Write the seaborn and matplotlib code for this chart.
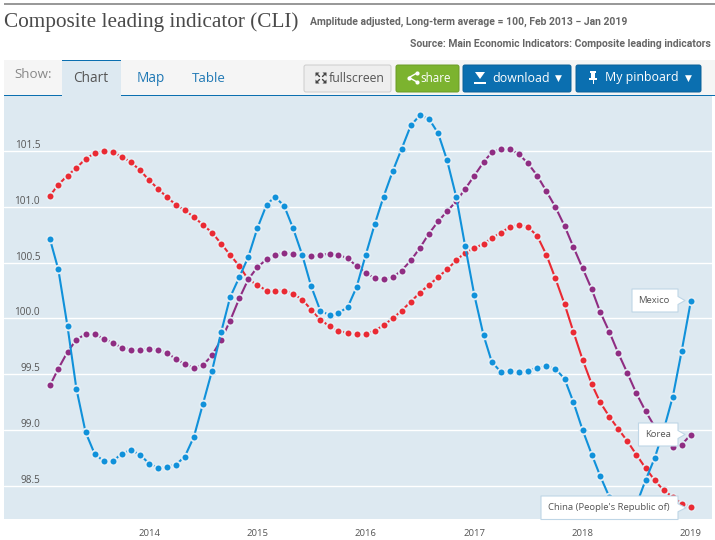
import pandas as pd
import matplotlib
matplotlib.use("Agg")
import matplotlib.pyplot as plt
from matplotlib.patches import FancyBboxPatch, Polygon, Rectangle
import seaborn as sns

# Monthly values, Feb 2013 - Jan 2019
months = pd.date_range("2013-02-01", periods=72, freq="MS")

china = [101.10, 101.20, 101.28, 101.35, 101.43, 101.48, 101.50, 101.49, 101.45, 101.40, 101.33,
         101.24, 101.16, 101.09, 101.02, 100.97, 100.91, 100.84, 100.77, 100.67, 100.57, 100.47, 100.35,
         100.30, 100.25, 100.25, 100.25, 100.22, 100.17, 100.08, 99.99, 99.93, 99.89, 99.87, 99.86,
         99.86, 99.89, 99.94, 100.00, 100.07, 100.15, 100.23, 100.30, 100.37, 100.44, 100.52, 100.59,
         100.63, 100.67, 100.72, 100.77, 100.82, 100.84, 100.82, 100.74, 100.57, 100.36, 100.13, 99.88,
         99.63, 99.41, 99.25, 99.12, 99.01, 98.90, 98.78, 98.66, 98.55, 98.46, 98.40, 98.34,
         98.31]

korea = [99.40, 99.55, 99.70, 99.81, 99.86, 99.86, 99.82, 99.78, 99.74, 99.72, 99.72,
         99.73, 99.72, 99.69, 99.64, 99.59, 99.56, 99.58, 99.67, 99.81, 99.98, 100.18, 100.35,
         100.46, 100.53, 100.57, 100.59, 100.58, 100.57, 100.56, 100.57, 100.58, 100.57, 100.54, 100.47,
         100.41, 100.36, 100.35, 100.37, 100.43, 100.52, 100.63, 100.76, 100.87, 100.96, 101.05, 101.16,
         101.28, 101.40, 101.49, 101.52, 101.52, 101.47, 101.39, 101.28, 101.14, 101.00, 100.83, 100.64,
         100.45, 100.26, 100.06, 99.88, 99.69, 99.51, 99.33, 99.17, 99.03, 98.93, 98.85, 98.87,
         98.96]

mexico = [100.71, 100.44, 99.93, 99.37, 98.98, 98.79, 98.72, 98.72, 98.79, 98.82, 98.78,
          98.70, 98.66, 98.67, 98.69, 98.76, 98.94, 99.23, 99.53, 99.88, 100.19, 100.37, 100.55,
          100.81, 101.02, 101.09, 101.01, 100.81, 100.57, 100.29, 100.07, 100.03, 100.05, 100.10, 100.28,
          100.57, 100.85, 101.09, 101.32, 101.52, 101.73, 101.82, 101.79, 101.66, 101.42, 101.09, 100.65,
          100.21, 99.85, 99.61, 99.52, 99.53, 99.52, 99.53, 99.56, 99.57, 99.55, 99.46, 99.25,
          99.00, 98.78, 98.59, 98.40, 98.22, 98.12, 98.33, 98.55, 98.75, 99.00, 99.30, 99.71,
          100.16]

y_ticks = [98.5, 99.0, 99.5, 100.0, 100.5, 101.0, 101.5]
x_years = [2014, 2015, 2016, 2017, 2018, 2019]

BG = "#dde9f1"
TEXT = "#555555"
BLUE_BTN = "#0b6fb0"

sns.set_theme(style="darkgrid", rc={
    "axes.facecolor": BG,
    "grid.color": "white",
    "grid.linewidth": 1.0,
    "axes.linewidth": 0,
})
plt.rcParams["font.family"] = ["Open Sans", "DejaVu Sans"]

W, H = 715, 540
fig = plt.figure(figsize=(W / 100, H / 100), dpi=100, facecolor="white")

# chart area, placed in pixels
ax = fig.add_axes([4 / W, (H - 519) / H, 708 / W, 423 / H])

df = pd.DataFrame({
    "date": list(months) * 3,
    "value": china + korea + mexico,
    "country": ["China"] * 72 + ["Korea"] * 72 + ["Mexico"] * 72,
})
sns.lineplot(data=df, x="date", y="value", hue="country", ax=ax, legend=False,
             palette={"China": "#ea2a33", "Korea": "#8f2d82", "Mexico": "#1091da"},
             linewidth=1.5, marker="o", markersize=5.6,
             markeredgecolor="#e3edf4", markeredgewidth=1.3, estimator=None)

ax.set_xlim(pd.Timestamp("2013-02-01") - pd.Timedelta(days=155),
            pd.Timestamp("2019-01-01") + pd.Timedelta(days=71))
ax.set_ylim(98.203, 101.994)
ax.set_xlabel("")
ax.set_ylabel("")
ax.grid(False, axis="x")
ax.set_xticks([pd.Timestamp(f"{y}-01-01") for y in x_years])
ax.set_xticklabels([str(y) for y in x_years], fontsize=6.8, color=TEXT)
ax.set_yticks(y_ticks)
ax.set_yticklabels([f"{v:.1f}" for v in y_ticks], fontsize=7.2, color=TEXT, ha="right", va="bottom")
ax.tick_params(axis="x", length=3, width=1.2, color="white", direction="in", pad=7)
ax.tick_params(axis="y", length=0, pad=-26)

# overlay in pixel coordinates for the page furniture
ov = fig.add_axes([0, 0, 1, 1], zorder=5)
ov.set_xlim(0, W)
ov.set_ylim(H, 0)
ov.axis("off")
ov.patch.set_alpha(0)

ov.add_patch(Rectangle((4, 3), 711, 1.5, fc="#999999", ec="none"))
ov.text(4, 22, "Composite leading indicator (CLI)", family="Liberation Serif",
        fontsize=15.3, color="#4a4a4a", va="center")
ov.text(310, 22, "Amplitude adjusted, Long-term average = 100, Feb 2013 \u2212 Jan 2019",
        family="Roboto", weight="bold", fontsize=7.5, color="#666666", va="center")
ov.text(711, 44, "Source: Main Economic Indicators: Composite leading indicators",
        family="Roboto", weight="bold", fontsize=7.5, color="#666666", va="center", ha="right")

# toolbar
ov.add_patch(Rectangle((4, 60), 711, 35, fc="#f5f5f5", ec="none"))
ov.add_patch(Rectangle((4, 95), 711, 1, fc=BLUE_BTN, ec="none"))
ov.add_patch(Rectangle((62, 60), 59, 36, fc=BG, ec="none"))
ov.add_patch(Rectangle((62, 60), 59, 1, fc=BLUE_BTN, ec="none"))
ov.text(14, 75, "Show:", fontsize=9.6, color="#888888", va="center")
ov.text(91, 78, "Chart", fontsize=9.8, color="#555555", va="center", ha="center")
ov.text(150.5, 78, "Map", fontsize=9.8, color="#1f78b4", va="center", ha="center")
ov.text(208.5, 78, "Table", fontsize=9.6, color="#1f78b4", va="center", ha="center")


def button(x0, x1, face, edge):
    ov.add_patch(FancyBboxPatch((x0 + 2, 67), x1 - x0 - 4, 23, boxstyle="round,pad=2,rounding_size=2",
                                fc=face, ec=edge, lw=0.7))


button(304, 391, "#eeeeee", "#cccccc")
button(396, 459, "#7cb32f", "#6a9c25")
button(463, 571, BLUE_BTN, "#0a5f98")
button(576, 701, BLUE_BTN, "#0a5f98")

ov.text(329, 78, "fullscreen", fontsize=8.8, color="#555555", va="center")
ov.text(420, 78, "share", fontsize=8.4, color="white", va="center")
ov.text(492, 78, "download", fontsize=8.9, color="white", va="center")
ov.text(605, 78, "My pinboard", fontsize=8.9, color="white", va="center")
ov.text(558, 78, "\u25bc", fontsize=6.5, color="white", va="center", ha="center", family="DejaVu Sans")
ov.text(688, 78, "\u25bc", fontsize=6.5, color="white", va="center", ha="center", family="DejaVu Sans")

# fullscreen icon
for sx, sy in [(-1, -1), (1, -1), (-1, 1), (1, 1)]:
    cx, cy = 321 + sx * 5.5, 78 + sy * 5.5
    ov.add_patch(Polygon([(cx, cy), (cx - sx * 4, cy), (cx, cy - sy * 4)], fc="#444444", ec="none"))
    ov.plot([cx - sx * 1, cx - sx * 4], [cy - sy * 1, cy - sy * 4], color="#444444", lw=1.0)

# share icon
ov.plot([417, 409, 417], [73, 77.5, 82], color="white", lw=1.0, marker="o", ms=3, mec="none")
# download icon
ov.add_patch(Polygon([(475, 72), (485, 72), (480, 79)], fc="white", ec="none"))
ov.add_patch(Rectangle((474, 82), 12, 2, fc="white", ec="none"))
# pin icon
ov.add_patch(Rectangle((590, 71), 6, 1.5, fc="white", ec="none"))
ov.add_patch(Rectangle((591, 72), 4, 6, fc="white", ec="none"))
ov.add_patch(Rectangle((589, 78), 8, 1.5, fc="white", ec="none"))
ov.add_patch(Rectangle((592.5, 79), 1, 5, fc="white", ec="none"))


# series labels with the small pointer towards the last point
def callout(x0, x1, y0, y1, tip, text):
    ym = (y0 + y1) / 2
    ov.add_patch(Polygon([(x0, y0), (x1, y0), (x1, ym - 4), (tip, ym), (x1, ym + 4), (x1, y1), (x0, y1)],
                         fc="white", ec="#bfd6e6", lw=0.8, joinstyle="round"))
    ov.text(x0 + 6.5, ym, text, fontsize=6.8, color="#555555", va="center")


callout(632, 678, 289, 312, 685, "Mexico")
callout(638.5, 678, 423, 446, 685, "Korea")
callout(541, 678, 496, 519.5, 686, "China (People's Republic of)")

fig.savefig("out.png", dpi=100, facecolor="white")
